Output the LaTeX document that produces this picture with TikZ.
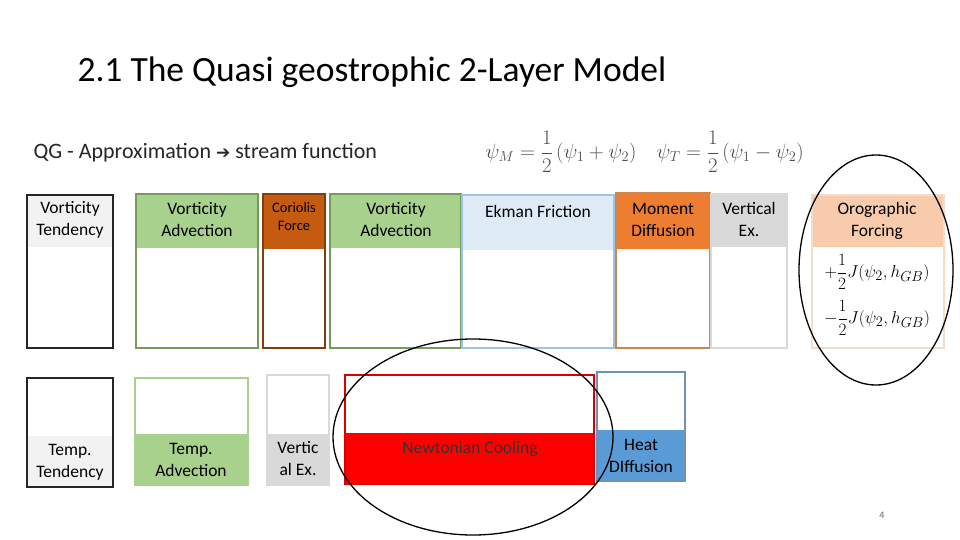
\documentclass[tikz,border=0pt]{standalone}
\usepackage{amsmath}
\usepackage{fontspec}
\setmainfont{Carlito}
\newfontfamily\dvs{DejaVu Sans}
\begin{document}
\begin{tikzpicture}[x=1pt,y=-1pt,
  lbl/.style={font=\fontsize{17.5}{22}\selectfont,align=center,text=black},
  bx/.style={line width=1.6pt}]
\useasboundingbox (0,0) rectangle (960,540);
\fill[white] (0,0) rectangle (960,540);
\definecolor{gr}{HTML}{A9D18E}\definecolor{dgr}{HTML}{548235}
\definecolor{br}{HTML}{C55A11}\definecolor{dbr}{HTML}{843C0C}
\definecolor{lb}{HTML}{DEEBF7}\definecolor{lbb}{HTML}{9DC3E6}
\definecolor{or}{HTML}{ED7D31}\definecolor{orb}{HTML}{C9894E}
\definecolor{lg}{HTML}{D9D9D9}\definecolor{pe}{HTML}{F8CBAD}\definecolor{peb}{HTML}{F4DCC8}
\definecolor{bl}{HTML}{5B9BD5}\definecolor{blb}{HTML}{6D94B8}
\definecolor{tg}{HTML}{F2F2F2}
\node[anchor=west,font=\fontsize{35.5}{40}\selectfont] (title) at (74,72) {2.1 The Quasi geostrophic 2-Layer Model};
\node[anchor=west,font=\fontsize{22}{24}\selectfont,text=black!85] (sub) at (30,153) {QG - Approximation {\dvs\fontsize{17}{20}\selectfont ➔} stream function};
\node[anchor=west,text=black!70,font=\fontsize{20}{22}\selectfont] (eq) at (482,152) {$\psi_M=\dfrac{1}{2}\,(\psi_1+\psi_2)\quad \psi_T=\dfrac{1}{2}\,(\psi_1-\psi_2)$};
% top row
\fill[tg] (27,195) rectangle (113,247);
\draw[bx,black!85] (27,195) rectangle (113,348);
\node[lbl] (vt) at (70,220) {Vorticity\\Tendency};
\fill[gr] (136,194) rectangle (258,248);
\draw[bx,dgr!80] (136,194) rectangle (258,348);
\node[lbl] (va1) at (197,220) {Vorticity\\Advection};
\fill[br] (263,194) rectangle (325,249);
\draw[bx,dbr] (263,194) rectangle (325,348);
\node[lbl,font=\fontsize{14.5}{18}\selectfont] (cf) at (294,217) {Coriolis\\Force};
\fill[gr] (330,194) rectangle (461,248);
\draw[bx,dgr!80] (330,194) rectangle (461,348);
\node[lbl] (va2) at (396,220) {Vorticity\\Advection};
\fill[lb] (462,195) rectangle (614,250);
\draw[bx,lbb] (462,195) rectangle (614,348);
\node[lbl] (ek) at (538,211) {Ekman Friction};
\fill[or] (616,193) rectangle (710,249);
\draw[bx,orb] (616,193) rectangle (710,348);
\node[lbl] (md) at (663,220) {Moment\\Diffusion};
\fill[lg] (711,194) rectangle (787,247);
\draw[bx,lg] (711,194) rectangle (787,348);
\node[lbl] (ve) at (749,219) {Vertical\\Ex.};
\fill[pe] (812,195) rectangle (944,247);
\draw[bx,peb] (812,195) rectangle (944,348);
\node[lbl] (of) at (877,221) {Orographic\\Forcing};
\node[font=\fontsize{19}{21}\selectfont] (j1) at (877,272) {$+\dfrac{1}{2}J(\psi_2,h_{GB})$};
\node[font=\fontsize{19}{21}\selectfont] (j2) at (877,318) {$-\dfrac{1}{2}J(\psi_2,h_{GB})$};
\draw[line width=1.3pt] (876,270) ellipse (77 and 115);
% bottom row
\fill[tg] (27,436) rectangle (113,487);
\draw[bx,black!85] (27,378) rectangle (113,487);
\node[lbl] (tt) at (70,462) {Temp.\\Tendency};
\fill[gr] (135,434) rectangle (248,485);
\draw[bx,gr] (135,378) rectangle (248,485);
\node[lbl] (ta) at (191,460) {Temp.\\Advection};
\fill[lg] (267,434) rectangle (329,485);
\draw[bx,lg] (267,375) rectangle (329,485);
\node[lbl] (ve2) at (298,459) {Vertic\\al Ex.};
\fill[red] (345,433) rectangle (594,484);
\draw[bx,red!85!black] (345,375) rectangle (594,484);
\node[lbl,text=black!80] (nc) at (470,449) {Newtonian Cooling};
\fill[bl] (597,430) rectangle (685,481);
\draw[bx,blb] (597,372) rectangle (685,481);
\node[lbl] (hd) at (641,456) {Heat\\DIffusion};
\draw[line width=1.3pt] (473,437) ellipse (140 and 98);
\node[text=black!60,font=\fontsize{10}{12}\selectfont] (pg) at (882,515) {4};
\end{tikzpicture}
\end{document}
